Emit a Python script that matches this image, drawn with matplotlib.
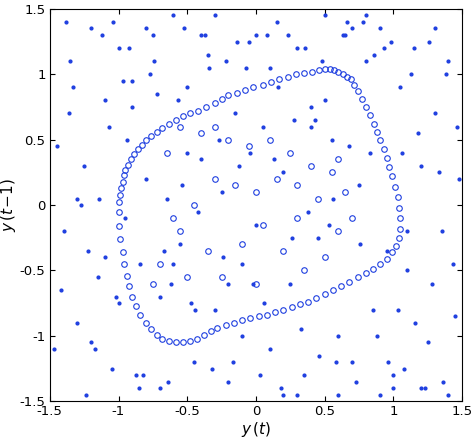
import numpy as np
import matplotlib.pyplot as plt

# open circles along the attractor loop and a few inside it
loop_x = [-1.0, -1.0, -0.99, -0.98, -0.97, -0.96, -0.95, -0.93, -0.91, -0.89, -0.86, -0.83,
          -0.8, -0.76, -0.72, -0.68, -0.63, -0.58, -0.53, -0.48, -0.42, -0.36, -0.3, -0.25,
          -0.2, -0.14, -0.08, -0.02, 0.05, 0.11, 0.17, 0.23, 0.29, 0.35, 0.41, 0.46, 0.5,
          0.54, 0.57, 0.6, 0.63, 0.66, 0.69, 0.71, 0.74, 0.77, 0.8, 0.83, 0.86, 0.88, 0.9,
          0.93, 0.95, 0.97, 0.99, 1.01, 1.03, 1.04, 1.05, 1.05, 1.04, 1.02, 0.99, 0.95, 0.9,
          0.85, 0.8, 0.74, 0.68, 0.62, 0.56, 0.5, 0.44, 0.38, 0.32, 0.26, 0.2, 0.14, 0.08,
          0.02, -0.04, -0.1, -0.16, -0.22, -0.28, -0.33, -0.38, -0.43, -0.48, -0.53, -0.58,
          -0.63, -0.68, -0.72, -0.76, -0.8, -0.84, -0.87, -0.9, -0.92, -0.94, -0.96, -0.97,
          -0.99, -1.0]
loop_y = [-0.05, 0.02, 0.08, 0.13, 0.18, 0.23, 0.27, 0.31, 0.35, 0.39, 0.43, 0.46,
          0.5, 0.53, 0.56, 0.59, 0.62, 0.65, 0.68, 0.7, 0.72, 0.75, 0.78, 0.81,
          0.84, 0.86, 0.88, 0.9, 0.92, 0.94, 0.96, 0.98, 1.0, 1.01, 1.02, 1.03, 1.04,
          1.04, 1.03, 1.02, 1.0, 0.98, 0.96, 0.92, 0.87, 0.81, 0.75, 0.69, 0.62, 0.56, 0.5,
          0.43, 0.36, 0.29, 0.22, 0.14, 0.06, -0.02, -0.1, -0.18, -0.25, -0.31, -0.36, -0.41, -0.45,
          -0.49, -0.52, -0.55, -0.59, -0.62, -0.65, -0.68, -0.71, -0.74, -0.76, -0.78, -0.8, -0.82, -0.84,
          -0.85, -0.86, -0.88, -0.9, -0.92, -0.94, -0.96, -0.99, -1.02, -1.04, -1.05, -1.05,
          -1.04, -1.02, -0.99, -0.95, -0.9, -0.84, -0.77, -0.7, -0.62, -0.54, -0.45, -0.36,
          -0.26, -0.16]
inner_x = [-0.55, -0.4, -0.3, -0.2, -0.05, 0.1, 0.25, 0.4, 0.55, 0.65, 0.7, 0.6, 0.45, 0.3,
           0.15, 0.0, -0.15, -0.3, -0.45, -0.6, -0.7, -0.75, -0.5, -0.35, -0.1, 0.05, 0.2,
           0.35, 0.5, 0.6, -0.65, -0.55, -0.25, 0.0, 0.3]
inner_y = [0.6, 0.55, 0.6, 0.5, 0.45, 0.5, 0.4, 0.3, 0.25, 0.1, -0.1, -0.2, 0.05, 0.15,
           0.2, 0.1, 0.15, 0.2, 0.0, -0.1, -0.45, -0.6, -0.55, -0.35, -0.3, -0.15, -0.35,
           -0.5, -0.4, 0.35, 0.4, -0.2, -0.55, -0.6, -0.1]

# scattered noisy points
dot_x = [-1.45, -1.4, -1.35, -1.3, -1.25, -1.2, -1.15, -1.1, -1.05, -1.0, -0.95, -0.9,
         -0.85, -0.8, -0.75, -0.7, -0.65, -0.6, -0.55, -0.5, -0.45, -0.4, -0.35, -0.3,
         -0.25, -0.2, -0.15, -0.1, -0.05, 0.0, 0.05, 0.1, 0.15, 0.2, 0.25, 0.3, 0.35,
         0.4, 0.45, 0.5, 0.55, 0.6, 0.65, 0.7, 0.75, 0.8, 0.85, 0.9, 0.95, 1.0, 1.05,
         1.1, 1.15, 1.2, 1.25, 1.3, 1.35, 1.4, 1.45,
         -1.42, -1.33, -1.22, -1.12, -1.02, -0.92, -0.82, -0.72, -0.62, -0.52, -0.42, -0.32,
         -0.22, -0.12, -0.02, 0.08, 0.18, 0.28, 0.38, 0.48, 0.58, 0.68, 0.78, 0.88, 0.98,
         1.08, 1.18, 1.28, 1.38, 1.48,
         -1.38, -1.27, -1.17, -1.07, -0.97, -0.87, -0.77, -0.67, -0.57, -0.47, -0.37, -0.27,
         -0.17, -0.07, 0.03, 0.13, 0.23, 0.33, 0.43, 0.53, 0.63, 0.73, 0.83, 0.93, 1.03,
         1.13, 1.23, 1.33, 1.43,
         -1.47, -1.36, -1.24, -1.14, -1.04, -0.94, -0.84, -0.74, -0.64, -0.54, -0.44, -0.34,
         -0.24, -0.14, -0.04, 0.06, 0.16, 0.26, 0.36, 0.46, 0.56, 0.66, 0.76, 0.86, 0.96,
         1.06, 1.16, 1.26, 1.36, 1.46,
         -1.3, -1.1, -0.9, -0.7, -0.5, -0.3, -0.1, 0.1, 0.3, 0.5, 0.7, 0.9, 1.1, 1.3,
         -1.2, -1.0, -0.8, -0.6, -0.4, -0.2, 0.0, 0.2, 0.4, 0.6, 0.8, 1.0, 1.2, 1.4]
dot_y = [0.45, -0.2, 1.1, -0.9, 0.3, 1.35, -0.55, 0.8, -1.25, 1.2, -0.1, 0.95,
         -1.4, 0.2, 1.3, -0.7, 0.05, 1.45, -0.3, 0.9, -1.2, 0.35, 1.15, -0.8,
         0.1, -1.35, 0.7, -0.45, 1.25, -0.15, 0.6, -1.1, 1.4, 0.25, -0.6, 1.2, -1.3,
         0.75, -0.25, 1.45, 0.5, -1.0, 1.3, -1.2, 0.15, 1.1, -0.8, 1.35, -0.35, -1.3, 0.9,
         -0.5, 1.2, 0.3, -1.05, 0.7, -0.2, 1.1, -0.85,
         -0.65, 0.9, -0.35, 1.3, -0.7, 1.2, -1.3, 0.85, -0.6, 1.35, -0.05, -1.25,
         1.1, 0.3, -0.6, 1.3, -1.4, 0.65, -0.05, 1.1, -1.2, 0.45, 1.4, -1.0, 1.25,
         -1.25, 0.55, -0.6, 1.0, 0.2,
         1.4, 0.0, -1.1, 0.6, 0.95, -1.3, 1.0, -0.35, 0.8, -0.75, 1.3, 0.5,
         -1.2, 1.05, -1.3, 0.35, 1.3, -0.95, 0.65, -0.15, 1.3, -1.35, 0.4, 1.2, -0.8,
         1.0, -1.4, 0.25, -0.45,
         -1.1, 0.7, -1.45, 0.05, 1.4, 0.5, -0.45, 1.1, -1.35, 0.15, -0.8, 1.05,
         -0.4, 1.25, 0.4, -0.75, 0.9, -0.25, 1.2, -1.15, 0.05, 1.4, -0.3, 1.15, -1.2,
         0.4, -0.9, 1.25, -1.35, 0.6,
         0.05, -0.4, 0.75, -1.4, 0.4, 1.45, -1.0, 1.05, -1.45, 0.8, 1.35, -1.45, -0.2, 1.35,
         -1.05, -0.75, 1.35, -0.45, 1.3, -0.6, 1.3, -1.45, 0.6, -1.45, 1.45, -1.4, -1.4, -1.45]

blue = '#1f3fe0'
fig, ax = plt.subplots(figsize=(4.74, 4.41), dpi=100)
plt.subplots_adjust(left=0.105, right=0.975, top=0.98, bottom=0.09)

ax.plot(dot_x, dot_y, '.', color=blue, markersize=4)
ax.plot(loop_x, loop_y, 'o', color=blue, markerfacecolor='none', markersize=4, markeredgewidth=0.8)
ax.plot(inner_x, inner_y, 'o', color=blue, markerfacecolor='none', markersize=4, markeredgewidth=0.8)

ax.set_xlim(-1.5, 1.5)
ax.set_ylim(-1.5, 1.5)
ax.set_xticks([-1.5, -1, -0.5, 0, 0.5, 1, 1.5])
ax.set_xticklabels(['-1.5', '-1', '-0.5', '0', '0.5', '1', '1.5'])
ax.set_yticks([-1.5, -1, -0.5, 0, 0.5, 1, 1.5])
ax.set_yticklabels(['-1.5', '-1', '-0.5', '0', '0.5', '1', '1.5'])
ax.tick_params(direction='in', top=True, right=True, labelsize=9.5, pad=3)
ax.set_xlabel(r'$y\,(t)$', fontsize=11, labelpad=1)
ax.set_ylabel(r'$y\,(t\!-\!1)$', fontsize=11, labelpad=1)

plt.savefig('out.png', dpi=100)
